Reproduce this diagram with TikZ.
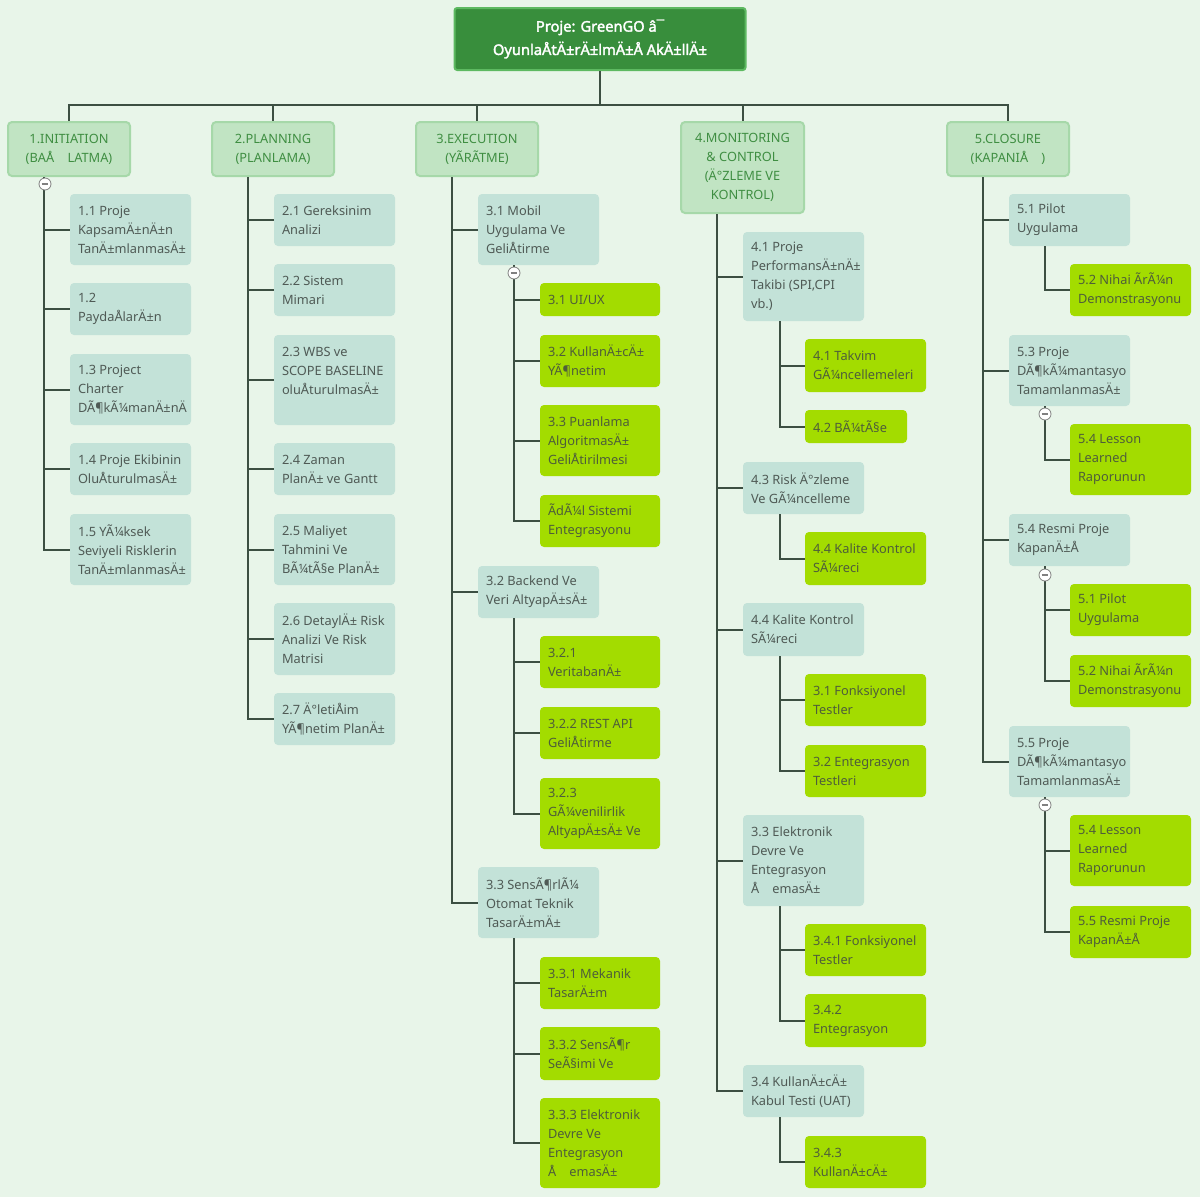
\documentclass[tikz,border=0pt]{standalone}
\usepackage{fontspec}
\setmainfont{Noto Sans}
\newfontfamily\titlefont{Noto Sans}[AutoFakeBold=2.2]
\usetikzlibrary{calc}
\definecolor{bgcol}{HTML}{E8F5E9}
\definecolor{rootfill}{HTML}{388E3C}
\definecolor{rootdraw}{HTML}{5DB961}
\definecolor{phasefill}{HTML}{C1E4C3}
\definecolor{phasedraw}{HTML}{A6D8A9}
\definecolor{phasetext}{HTML}{3F8E42}
\definecolor{taskfill}{HTML}{C3E2D8}
\definecolor{tasktext}{HTML}{4F5A55}
\definecolor{subfill}{HTML}{A3DC00}
\definecolor{subtext}{HTML}{4E5E3A}
\definecolor{linecol}{HTML}{3C4F42}
\tikzset{
  root/.style={draw=rootdraw,line width=1.5pt,fill=rootfill,rounded corners=2pt,inner sep=0pt},
  phase/.style={draw=phasedraw,line width=1.5pt,fill=phasefill,rounded corners=3pt,inner sep=0pt},
  task/.style={fill=taskfill,rounded corners=3pt,inner sep=0pt},
  sub/.style={fill=subfill,rounded corners=3pt,inner sep=0pt},
  task text/.style={align=left,text=tasktext,inner sep=0pt,xshift=6pt},
  sub text/.style={align=left,text=subtext,inner sep=0pt,xshift=6pt},
  branch/.style={draw=linecol,line width=1.5pt},
  fold/.style={circle,draw=gray,fill=white,line width=0.6pt,minimum size=9pt,inner sep=0pt,
    path picture={\draw[gray,line width=0.8pt] ([xshift=-2.5pt]path picture bounding box.center)--([xshift=2.5pt]path picture bounding box.center);}}
}
\newcommand{\wbox}[7]{%
  \node[#2,minimum width={(#5-#3)*0.75pt},minimum height={(#6-#4)*0.75pt}] (#1) at ({(#3+#5)/2},{(#4+#6)/2}) {};
  \node[#2 text,anchor=west] at (#1.west) {#7};}
\newcommand{\pbox}[7]{%
  \node[#2,minimum width={(#5-#3)*0.75pt},minimum height={(#6-#4)*0.75pt},align=center,text=phasetext] (#1) at ({(#3+#5)/2},{(#4+#6)/2}) {#7};}
\begin{document}
\fontsize{9.6pt}{14.25pt}\selectfont
\begin{tikzpicture}[x=0.75pt,y=-0.75pt]
  \fill[bgcol] (0,0) rectangle (1200,1197);
  \useasboundingbox (0,0) rectangle (1200,1197);

  % root and phases
  \node[root,minimum width={291*0.75pt},minimum height={62*0.75pt},align=center,text=white,font=\titlefont\bfseries\fontsize{11pt}{17.5pt}\selectfont] (proje) at (600,39) {Proje: GreenGO â¯\\OyunlaÅtÄ±rÄ±lmÄ±Å AkÄ±llÄ±};
  \pbox{initiation}{phase}{8}{122}{130}{176}{1.INITIATION\\(BAÅ\ \ \ \ LATMA)}
  \pbox{planning}{phase}{212}{122}{334}{176}{2.PLANNING\\(PLANLAMA)}
  \pbox{execution}{phase}{416}{122}{538}{176}{3.EXECUTION\\(YÃRÃTME)}
  \pbox{monitoring}{phase}{681}{122}{804}{213}{4.MONITORING\\\& CONTROL\\(Ä°ZLEME VE\\KONTROL)}
  \pbox{closure}{phase}{947}{122}{1069}{176}{5.CLOSURE\\(KAPANIÅ\ \ \ \ )}
  \coordinate (bus) at (600,105);
  \draw[branch] (proje.south) -- (bus);
  \foreach \p in {initiation,planning,execution,monitoring,closure}
    \draw[branch] (bus) -| (\p.north);

  % 1 initiation
  \wbox{t11}{task}{70}{194}{191}{265}{1.1 Proje\\KapsamÄ±nÄ±n\\TanÄ±mlanmasÄ±}
  \wbox{t12}{task}{70}{283}{191}{335}{1.2\\PaydaÅlarÄ±n}
  \wbox{t13}{task}{70}{354}{191}{425}{1.3 Project\\Charter\\DÃ¶kÃ¼manÄ±nÄ}
  \wbox{t14}{task}{70}{443}{191}{495}{1.4 Proje Ekibinin\\OluÅturulmasÄ±}
  \wbox{t15}{task}{70}{514}{191}{585}{1.5 YÃ¼ksek\\Seviyeli Risklerin\\TanÄ±mlanmasÄ±}
  \foreach \c in {t11,t12,t13,t14,t15}
    \draw[branch] ($(initiation.south west)+(37,0)$) |- (\c.west);
  \node[fold] (fold1) at (45,184) {};

  % 2 planning
  \wbox{t21}{task}{274}{194}{395}{246}{2.1 Gereksinim\\Analizi}
  \wbox{t22}{task}{274}{264}{395}{316}{2.2 Sistem\\Mimari}
  \wbox{t23}{task}{274}{335}{395}{425}{2.3 WBS ve\\SCOPE BASELINE\\oluÅturulmasÄ±\\ }
  \wbox{t24}{task}{274}{443}{395}{495}{2.4 Zaman\\PlanÄ± ve Gantt}
  \wbox{t25}{task}{274}{514}{395}{585}{2.5 Maliyet\\Tahmini Ve\\BÃ¼tÃ§e PlanÄ±}
  \wbox{t26}{task}{274}{603}{395}{675}{2.6 DetaylÄ± Risk\\Analizi Ve Risk\\Matrisi}
  \wbox{t27}{task}{274}{693}{395}{745}{2.7 Ä°letiÅim\\YÃ¶netim PlanÄ±}
  \foreach \c in {t21,t22,t23,t24,t25,t26,t27}
    \draw[branch] ($(planning.south west)+(37,0)$) |- (\c.west);

  % 3 execution
  \wbox{t31}{task}{478}{194}{599}{265}{3.1 Mobil\\Uygulama Ve\\GeliÅtirme}
  \wbox{t32}{task}{478}{566}{599}{618}{3.2 Backend Ve\\Veri AltyapÄ±sÄ±}
  \wbox{t33}{task}{478}{867}{599}{938}{3.3 SensÃ¶rlÃ¼\\Otomat Teknik\\TasarÄ±mÄ±}
  \foreach \c in {t31,t32,t33}
    \draw[branch] ($(execution.south west)+(37,0)$) |- (\c.west);
  \wbox{s311}{sub}{540}{283}{660}{316}{3.1 UI/UX}
  \wbox{s312}{sub}{540}{335}{660}{387}{3.2 KullanÄ±cÄ±\\YÃ¶netim}
  \wbox{s313}{sub}{540}{405}{660}{476}{3.3 Puanlama\\AlgoritmasÄ±\\GeliÅtirilmesi}
  \wbox{s314}{sub}{540}{495}{660}{547}{ÃdÃ¼l Sistemi\\Entegrasyonu}
  \foreach \c in {s311,s312,s313,s314}
    \draw[branch] ($(t31.south west)+(36,0)$) |- (\c.west);
  \node[fold] (fold31) at (514,273) {};
  \wbox{s321}{sub}{540}{636}{660}{688}{3.2.1\\VeritabanÄ±}
  \wbox{s322}{sub}{540}{707}{660}{759}{3.2.2 REST API\\GeliÅtirme}
  \wbox{s323}{sub}{540}{778}{660}{849}{3.2.3\\GÃ¼venilirlik\\AltyapÄ±sÄ± Ve}
  \foreach \c in {s321,s322,s323}
    \draw[branch] ($(t32.south west)+(36,0)$) |- (\c.west);
  \wbox{s331}{sub}{540}{957}{660}{1009}{3.3.1 Mekanik\\TasarÄ±m}
  \wbox{s332}{sub}{540}{1027}{660}{1080}{3.3.2 SensÃ¶r\\SeÃ§imi Ve}
  \wbox{s333}{sub}{540}{1098}{660}{1188}{3.3.3 Elektronik\\Devre Ve\\Entegrasyon\\Å\ \ \ \ emasÄ±}
  \foreach \c in {s331,s332,s333}
    \draw[branch] ($(t33.south west)+(36,0)$) |- (\c.west);

  % 4 monitoring
  \wbox{t41}{task}{743}{232}{864}{321}{4.1 Proje\\PerformansÄ±nÄ±\\Takibi (SPI,CPI\\vb.)}
  \wbox{t43}{task}{743}{462}{864}{514}{4.3 Risk Ä°zleme\\Ve GÃ¼ncelleme}
  \wbox{t44}{task}{743}{603}{864}{656}{4.4 Kalite Kontrol\\SÃ¼reci}
  \wbox{t45}{task}{743}{815}{864}{906}{3.3 Elektronik\\Devre Ve\\Entegrasyon\\Å\ \ \ \ emasÄ±}
  \wbox{t46}{task}{743}{1065}{864}{1117}{3.4 KullanÄ±cÄ±\\Kabul Testi (UAT)}
  \foreach \c in {t41,t43,t44,t45,t46}
    \draw[branch] ($(monitoring.south west)+(37,0)$) |- (\c.west);
  \wbox{s411}{sub}{805}{339}{926}{392}{4.1 Takvim\\GÃ¼ncellemeleri}
  \wbox{s412}{sub}{805}{410}{907}{443}{4.2 BÃ¼tÃ§e}
  \foreach \c in {s411,s412}
    \draw[branch] ($(t41.south west)+(37,0)$) |- (\c.west);
  \wbox{s431}{sub}{805}{532}{926}{585}{4.4 Kalite Kontrol\\SÃ¼reci}
  \draw[branch] ($(t43.south west)+(37,0)$) |- (s431.west);
  \wbox{s441}{sub}{805}{674}{926}{726}{3.1 Fonksiyonel\\Testler}
  \wbox{s442}{sub}{805}{745}{926}{797}{3.2 Entegrasyon\\Testleri}
  \foreach \c in {s441,s442}
    \draw[branch] ($(t44.south west)+(37,0)$) |- (\c.west);
  \wbox{s451}{sub}{805}{924}{926}{976}{3.4.1 Fonksiyonel\\Testler}
  \wbox{s452}{sub}{805}{994}{926}{1047}{3.4.2\\Entegrasyon}
  \foreach \c in {s451,s452}
    \draw[branch] ($(t45.south west)+(37,0)$) |- (\c.west);
  \wbox{s461}{sub}{805}{1136}{926}{1188}{3.4.3\\KullanÄ±cÄ±}
  \draw[branch] ($(t46.south west)+(37,0)$) |- (s461.west);

  % 5 closure
  \wbox{t51}{task}{1009}{194}{1130}{246}{5.1 Pilot\\Uygulama}
  \wbox{t53}{task}{1009}{335}{1130}{406}{5.3 Proje\\DÃ¶kÃ¼mantasyo\\TamamlanmasÄ±}
  \wbox{t54}{task}{1009}{514}{1130}{566}{5.4 Resmi Proje\\KapanÄ±Å}
  \wbox{t55}{task}{1009}{726}{1130}{797}{5.5 Proje\\DÃ¶kÃ¼mantasyo\\TamamlanmasÄ±}
  \foreach \c in {t51,t53,t54,t55}
    \draw[branch] ($(closure.south west)+(37,0)$) |- (\c.west);
  \wbox{s511}{sub}{1070}{264}{1191}{316}{5.2 Nihai ÃrÃ¼n\\Demonstrasyonu}
  \draw[branch] ($(t51.south west)+(36,0)$) |- (s511.west);
  \wbox{s531}{sub}{1070}{424}{1191}{495}{5.4 Lesson\\Learned\\Raporunun}
  \draw[branch] ($(t53.south west)+(36,0)$) |- (s531.west);
  \node[fold] (fold53) at (1045,414) {};
  \wbox{s541}{sub}{1070}{584}{1191}{636}{5.1 Pilot\\Uygulama}
  \wbox{s542}{sub}{1070}{655}{1191}{707}{5.2 Nihai ÃrÃ¼n\\Demonstrasyonu}
  \foreach \c in {s541,s542}
    \draw[branch] ($(t54.south west)+(36,0)$) |- (\c.west);
  \node[fold] (fold54) at (1045,575) {};
  \wbox{s551}{sub}{1070}{815}{1191}{886}{5.4 Lesson\\Learned\\Raporunun}
  \wbox{s552}{sub}{1070}{906}{1191}{958}{5.5 Resmi Proje\\KapanÄ±Å}
  \foreach \c in {s551,s552}
    \draw[branch] ($(t55.south west)+(36,0)$) |- (\c.west);
  \node[fold] (fold55) at (1045,805) {};
\end{tikzpicture}
\end{document}
